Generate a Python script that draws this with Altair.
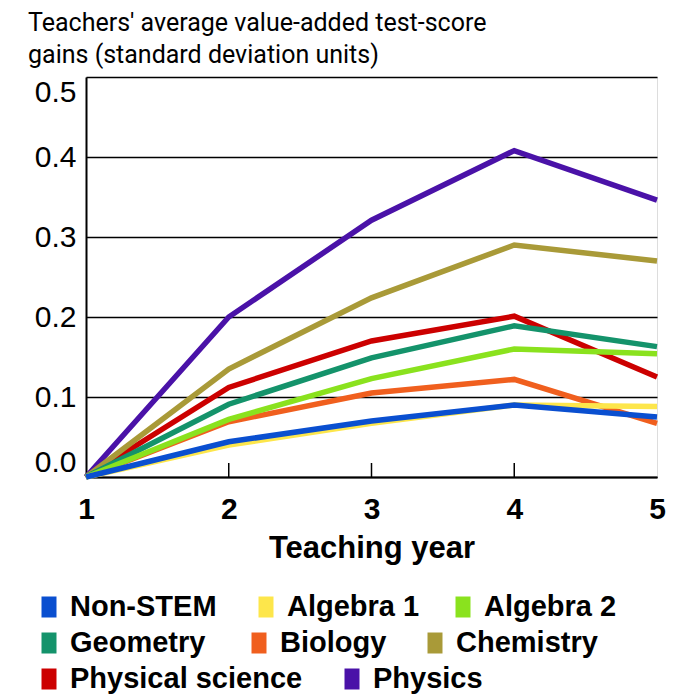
import altair as alt
import pandas as pd

years = [1, 2, 3, 4, 5]
subjects = ["Non-STEM", "Algebra 1", "Algebra 2", "Geometry", "Biology",
            "Chemistry", "Physical science", "Physics"]
colors = ["#0a4fd0", "#fde64b", "#8ae21e", "#14936b", "#f05f1e",
          "#a99a38", "#cc0000", "#4a12a8"]
values = {
    "Non-STEM":         [0.0, 0.044, 0.070, 0.090, 0.075],
    "Algebra 1":        [0.0, 0.040, 0.067, 0.090, 0.088],
    "Algebra 2":        [0.0, 0.072, 0.123, 0.160, 0.154],
    "Geometry":         [0.0, 0.091, 0.149, 0.189, 0.163],
    "Biology":          [0.0, 0.069, 0.105, 0.122, 0.067],
    "Chemistry":        [0.0, 0.135, 0.224, 0.290, 0.270],
    "Physical science": [0.0, 0.112, 0.170, 0.201, 0.125],
    "Physics":          [0.0, 0.200, 0.321, 0.408, 0.346],
}
y_ticks = [0.0, 0.1, 0.2, 0.3, 0.4, 0.5]
inner_ticks = [2, 3, 4]

# legend layout (pixel offsets relative to the plot area)
legend_pos = {
    "Non-STEM": (-55, 512), "Algebra 1": (162, 512), "Algebra 2": (359, 512),
    "Geometry": (-55, 548), "Biology": (155, 548), "Chemistry": (331, 548),
    "Physical science": (-55, 584), "Physics": (248, 584),
}

cmap = dict(zip(subjects, colors))
rows = []
for s in subjects:
    for yr, v in zip(years, values[s]):
        rows.append({"year": yr, "gain": v, "subject": s})
df = pd.DataFrame(rows)

x_scale = alt.Scale(domain=[1, 5], nice=False, zero=False)
y_scale = alt.Scale(domain=[0, 0.5], nice=False)

x_axis = alt.Axis(values=years, format="d", ticks=False, grid=False,
                  labelFont="Liberation Sans", labelFontSize=30,
                  labelFontWeight="bold", labelColor="black", labelPadding=17,
                  labelFlush=False, domainColor="black", domainWidth=2,
                  title="Teaching year", titleFont="Liberation Sans",
                  titleFontSize=31, titleFontWeight="bold", titleColor="black",
                  titlePadding=9)
y_axis = alt.Axis(values=y_ticks, format=".1f", ticks=False, grid=True,
                  gridColor="black", gridWidth=1.5, gridOpacity=1,
                  labelFont="Liberation Sans", labelFontSize=30,
                  labelFontWeight="normal", labelColor="black",
                  labelPadding=10, labelFlush=True, domainColor="black",
                  domainWidth=2, title=None)

layers = []
for s in reversed(subjects):
    sub = df[df.subject == s]
    lx, ly = legend_pos[s]
    lg = alt.Legend(title=None, orient="none", direction="horizontal",
                    legendX=lx, legendY=ly, padding=0, labelOffset=3,
                    labelFont="Liberation Sans", labelFontSize=29,
                    labelFontWeight="bold", labelColor="black",
                    labelLimit=400,
                    symbolType="M0,-1L0,1", symbolSize=441,
                    symbolStrokeWidth=15, symbolOpacity=1)
    layer = alt.Chart(sub).mark_line(strokeWidth=5.5, strokeCap="butt").encode(
        x=alt.X("year:Q", scale=x_scale, axis=x_axis),
        y=alt.Y("gain:Q", scale=y_scale, axis=y_axis),
        color=alt.Color("subject:N",
                        scale=alt.Scale(domain=[s], range=[cmap[s]]),
                        legend=lg),
    )
    layers.append(layer)

ticks_df = pd.DataFrame({"year": inner_ticks, "y0": [0.0] * 3, "y1": [0.0175] * 3})
ticks = alt.Chart(ticks_df).mark_rule(color="black", strokeWidth=1.5).encode(
    x=alt.X("year:Q", scale=x_scale),
    y=alt.Y("y0:Q", scale=y_scale),
    y2="y1:Q",
)

chart = alt.layer(ticks, *layers).resolve_scale(color="independent").properties(
    width=571, height=400,
    autosize=alt.AutoSizeParams(type="none"),
    padding={"left": 86, "top": 77, "right": 43, "bottom": 223},
    title=alt.TitleParams(
        text=["Teachers' average value-added test-score",
              "gains (standard deviation units)"],
        anchor="start", frame="group", dx=-58, offset=9,
        font="Roboto", fontSize=25, fontWeight="normal",
        color="black", lineHeight=32,
    ),
).configure_view(stroke="black", strokeWidth=2).configure(background="white")

chart.save("out.html", embed_options={"renderer": "svg", "actions": False})
